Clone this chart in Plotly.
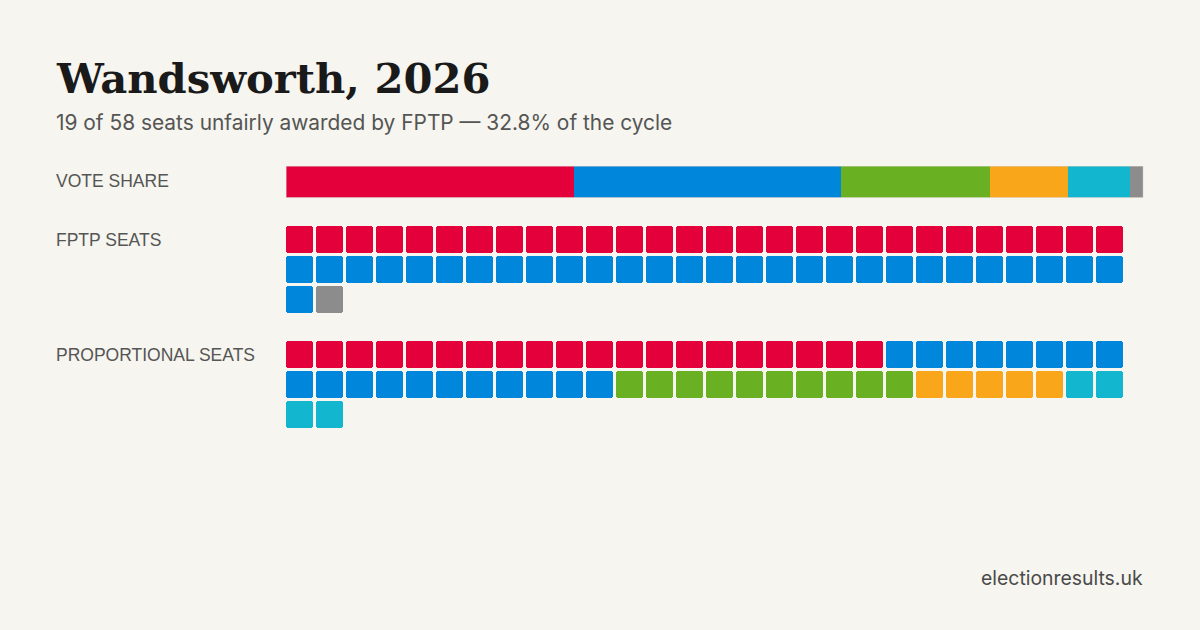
import math
import plotly.graph_objects as go

# ---------------- data ----------------
parties = ["Labour", "Conservative", "Green", "Liberal Democrat", "Reform UK", "Other"]
party_colors = ["#E4003B", "#0087DC", "#6AB023", "#FAA61A", "#12B6CF", "#8C8C8C"]
vote_share = [33.6, 31.1, 17.4, 9.1, 7.3, 1.5]
fptp_seats = [28, 29, 0, 0, 0, 1]
prop_seats = [20, 19, 10, 5, 4, 0]

title_text = "Wandsworth, 2026"
subtitle_text = "19 of 58 seats unfairly awarded by FPTP — 32.8% of the cycle"
row_labels = ["VOTE SHARE", "FPTP SEATS", "PROPORTIONAL SEATS"]
source_text = "electionresults.uk"

# ---------------- layout constants ----------------
W, H = 1200, 630
BG = "#F6F5EF"
LEFT, RIGHT = 286, 1143.3
COLS = 28
PITCH = 30
SQ = 26.5
VOTE_TOP, VOTE_BOT = 166, 197.5
FPTP_TOP = 226
PROP_TOP = 341
TEXT_X = 54
SANS = "Inter"
LABEL_FONT = "Liberation Sans"


def py(px):
    return 1 - px / H


fig = go.Figure()

# ---- vote share bar ----
total = sum(vote_share)
cum = 0
for name, col, v in zip(parties, party_colors, vote_share):
    fig.add_trace(go.Bar(
        orientation="h", y=[0], x=[v], base=[cum], width=1,
        marker=dict(color=col, line=dict(width=0), cornerradius=0),
        xaxis="x", yaxis="y", name=name, showlegend=False, hoverinfo="skip"))
    cum += v


# ---- seat grids ----
def seat_traces(seats, yaxis):
    idx = 0
    for name, col, n in zip(parties, party_colors, seats):
        if n == 0:
            continue
        xs, bases = [], []
        for k in range(n):
            xs.append((idx + k) % COLS)
            bases.append((idx + k) // COLS)
        idx += n
        fig.add_trace(go.Bar(
            x=xs, y=[SQ / PITCH] * n, base=bases, width=SQ / PITCH, offset=0,
            marker=dict(color=col, line=dict(width=0), cornerradius=3),
            xaxis="x2", yaxis=yaxis, name=name, showlegend=False, hoverinfo="skip"))


seat_traces(fptp_seats, "y2")
seat_traces(prop_seats, "y3")

fptp_rows = math.ceil(sum(fptp_seats) / COLS)
prop_rows = math.ceil(sum(prop_seats) / COLS)

fig.add_shape(type="rect", xref="x", yref="y", x0=0, x1=total, y0=-0.5, y1=0.5,
              line=dict(color="#D5CCC6", width=1), fillcolor="rgba(0,0,0,0)", layer="above")

annotations = [
    dict(text=title_text, x=TEXT_X / W, y=py(78), xanchor="left", yanchor="middle",
         font=dict(family="DejaVu Serif", size=41.7, color="#1A1A1A", weight=700)),
    dict(text=subtitle_text, x=TEXT_X / W, y=py(123), xanchor="left", yanchor="middle",
         font=dict(family=SANS, size=20.9, color="#555555")),
    dict(text=row_labels[0], x=TEXT_X / W, y=py(181), xanchor="left", yanchor="middle",
         font=dict(family=LABEL_FONT, size=17.5, color="#555555")),
    dict(text=row_labels[1], x=TEXT_X / W, y=py(240), xanchor="left", yanchor="middle",
         font=dict(family=LABEL_FONT, size=17.5, color="#555555")),
    dict(text=row_labels[2], x=TEXT_X / W, y=py(355), xanchor="left", yanchor="middle",
         font=dict(family=LABEL_FONT, size=17.5, color="#555555")),
    dict(text=source_text, x=(RIGHT + 2) / W, y=py(578), xanchor="right", yanchor="middle",
         font=dict(family=SANS, size=19.4, color="#4A4A4A")),
]
for a in annotations:
    a.update(xref="paper", yref="paper", showarrow=False)

hidden = dict(visible=False, fixedrange=True)
fig.update_layout(
    width=W, height=H, margin=dict(l=0, r=0, t=0, b=0),
    paper_bgcolor=BG, plot_bgcolor=BG, barmode="overlay", bargap=0,
    showlegend=False, annotations=annotations,
    xaxis=dict(domain=[LEFT / W, RIGHT / W], range=[0, total], **hidden),
    yaxis=dict(domain=[py(VOTE_BOT), py(VOTE_TOP)], range=[-0.5, 0.5], anchor="x", **hidden),
    xaxis2=dict(domain=[LEFT / W, (LEFT + COLS * PITCH) / W], range=[0, COLS], anchor="y2", **hidden),
    yaxis2=dict(domain=[py(FPTP_TOP + fptp_rows * PITCH), py(FPTP_TOP)], range=[fptp_rows, 0],
                anchor="x2", **hidden),
    yaxis3=dict(domain=[py(PROP_TOP + prop_rows * PITCH), py(PROP_TOP)], range=[prop_rows, 0],
                anchor="x2", **hidden),
)

fig.write_html("out.html", config={"displayModeBar": False})
